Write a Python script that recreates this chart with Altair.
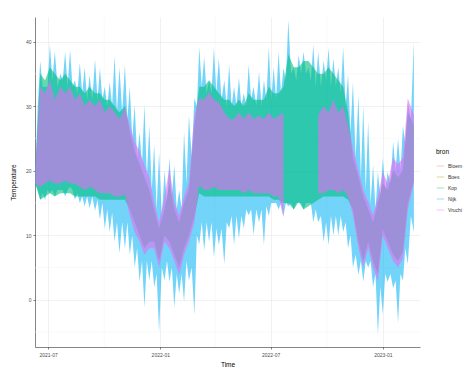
import altair as alt
import pandas as pd

# days since 2021-07-01 of each sample
days = [-21, -13, -5, 3, 11, 20, 28, 36, 44, 52, 60, 68, 77, 85, 93, 101, 109, 117, 126, 134,
        142, 150, 158, 166, 174, 182, 191, 199, 207, 215, 223, 231, 240, 248, 256, 264, 272, 280, 289, 297,
        305, 313, 321, 329, 337, 346, 354, 362, 370, 378, 386, 394, 403, 411, 419, 427, 435, 443, 452, 460,
        468, 476, 484, 492, 500, 509, 517, 525, 533, 541, 549, 557, 566, 574, 582, 590, 600]

nijk_hi = [20, 37, 33, 39.5, 38.5, 35, 38.4, 38.7, 34, 36.7, 36, 34.8, 37.2, 35.9, 33, 33.7, 37.8, 36, 36.4, 33,
           30.2, 26, 30.2, 27, 24, 22.8, 20, 22, 20.9, 17, 26, 28.6, 31.2, 39.1, 37.6, 34, 39, 37.4, 34, 36.4,
           33, 34.4, 32, 36.4, 33, 35.3, 34, 39.1, 36, 38.4, 35.9, 43.3, 36, 37.9, 38.4, 36, 39.5, 38.4, 37, 39,
           37.4, 36, 39.1, 34.8, 33.7, 31.7, 30, 27.6, 20.9, 19.8, 22, 19.8, 24.5, 25, 27, 30.6, 40]
nijk_lo = [18, 15.5, 15.5, 16.5, 16, 17, 16, 17.5, 15.5, 15, 14.5, 14.2, 13.8, 12.5, 11, 10.5, 9, 7.2, 8, 7,
           5, 2.8, -1.2, 3, 2, -5, 3, 2.8, -1.2, 1, -0.3, 3, -2.3, 8.6, 7.6, 9, 6.6, 8.5, 5.5, 11.1,
           8.5, 9.5, 11.1, 13.1, 10.1, 12, 8.5, 13, 15, 14, 13, 14.5, 14, 15, 14, 15, 12, 12, 9, 8.5,
           10, 10, 10.5, 8, 5, 3.9, 2.8, 5, 2, -5.4, -2.3, 2.8, 1.8, -3.6, 3, 5.5, 10.5]
# levels of the Nijk band between two samples (gaps between the spikes)
nijk_hi_mid = [30, 33, 33, 34, 33, 34, 33, 33, 32, 32, 31, 31, 31, 31, 30, 30, 29, 29, 28, 25,
               22, 21, 19, 17, 14, 13, 15, 16, 14, 14, 18, 22, 30, 33, 32, 32, 32, 31, 30, 30,
               30, 30, 30, 31, 30, 30, 31, 31, 31, 32, 34, 35, 34, 35, 35, 34, 33, 33, 34, 33,
               33, 32, 30, 26, 22, 19, 17, 15, 14, 16, 17, 18, 20, 20, 24, 28]
nijk_lo_mid = [17, 16.5, 17, 17, 17, 17, 17, 17, 16.5, 16, 16, 16, 15.5, 15, 14, 13.5, 12, 12, 12, 10,
               8, 6, 6, 6, 4, 5, 6, 5, 4, 4, 6, 5, 10, 12, 12, 12, 11, 11, 12, 13,
               13, 13, 14, 14, 14, 14, 14.5, 15, 15, 15, 15, 15, 15, 15, 15, 15, 14, 13, 12, 13,
               13, 13, 12, 10, 7, 6, 6, 6, 4, 2, 4, 4, 3, 4, 8, 13]

kop_hi = [20, 35, 34, 36, 35, 34, 35, 34, 33, 33, 32, 33, 32, 32, 31, 31, 30, 29, 30, 26,
          23, 21, 19, 17, 14, 11, 14, 18, 14, 12, 15, 17, 27, 33, 33, 34, 33, 32, 31, 31,
          30, 31, 30, 32, 31, 31, 31, 33, 32, 32, 33, 38, 36, 36, 37, 37, 36, 35, 35, 36,
          35, 34, 33, 29, 22, 19, 16, 14, 12, 15, 18, 17, 20, 19, 20, 29, 27]
kop_lo = [18, 15.5, 16, 16.5, 16, 16.5, 16.5, 16.5, 16, 16, 16, 16, 16, 15.5, 15.5, 15.5, 15.5, 15.5, 15.5, 14,
          12, 10, 8, 9, 9, 6, 10, 9, 7, 5, 8, 10, 13, 16.5, 16, 16, 16, 16, 16, 16,
          16, 16, 16, 16, 16, 16, 16, 16, 15.5, 15.5, 15, 15, 14, 15.2, 14, 14.5, 15, 15.5, 16, 16,
          16, 16, 16, 15.5, 14, 9, 6, 9, 6, 4, 11, 9, 7, 6, 7.5, 15, 18.5]

vruchi_hi = [20, 33, 32, 34, 31, 33, 32, 33, 31, 32, 30, 31, 30, 31, 29, 30, 29, 28, 29.7, 27,
             24.5, 23, 20.9, 19, 15.2, 12, 16, 20.4, 15.2, 13.1, 16, 18.2, 28.6, 31.2, 31, 32.2, 31, 30.6, 29, 28,
             28, 29, 28, 29, 28, 28.5, 28, 29, 28, 28.5, 29, None, None, None, None, None, None, 28.6, 30, 29,
             31, 29, 30, 27, 23.5, 20, 17, 15.2, 13.1, 16, 19.8, 18, 22, 21, 22, 31.2, 28.6]
vruchi_lo = [18, 17.5, 18, 18.5, 18, 18, 18.5, 18, 18, 17.5, 17, 17.5, 17, 16.5, 16.5, 16.5, 16, 16, 16.3, 13,
             10.5, 9, 7, 8, 8, 5, 9, 8, 6, 3.9, 7, 9, 12, 17.8, 17, 17, 17.5, 17, 17, 17,
             17, 17, 16.5, 17, 16.5, 16.5, 16.5, 16.5, 16, 16, 12.7, None, None, None, None, None, None, 16.5, 16.5, 17,
             17, 16.5, 17, 16, 13.1, 8, 5, 8, 5, 2.8, 10, 8, 6, 5, 6.5, 14, 18]

bron_names = ["Bloem", "Boes", "Kop", "Nijk", "Vruchi"]
bron_colors = ["#F8766D", "#A3A500", "#00BF7D", "#00B0F6", "#E76BF3"]

x_ticks = ["2021-07-01", "2022-01-01", "2022-07-01", "2023-01-01"]
x_minor = ["2021-10-01", "2022-04-01", "2022-10-01"]
y_ticks = [0, 10, 20, 30, 40]
y_minor = [-5, 5, 15, 25, 35]

base = pd.Timestamp("2021-07-01")


def day_str(d):
    return (base + pd.Timedelta(hours=round(d * 24))).strftime("%Y-%m-%dT%H:%M")


rows = []
# Nijk: samples interleaved with the mid levels
for i, d in enumerate(days):
    rows.append({"date": day_str(d), "lo": nijk_lo[i], "hi": nijk_hi[i], "bron": "Nijk", "seg": "Nijk0"})
    if i < len(days) - 1:
        dm = (d + days[i + 1]) / 2
        rows.append({"date": day_str(dm), "lo": nijk_lo_mid[i], "hi": nijk_hi_mid[i], "bron": "Nijk", "seg": "Nijk0"})
for name, his, los in [("Kop", kop_hi, kop_lo), ("Vruchi", vruchi_hi, vruchi_lo)]:
    seg = 0
    gap = False
    for d, h, l in zip(days, his, los):
        if h is None:
            if not gap:
                seg += 1
                gap = True
            continue
        gap = False
        rows.append({"date": day_str(d), "lo": l, "hi": h, "bron": name, "seg": f"{name}{seg}"})
df = pd.DataFrame(rows)

xdom = ["2021-06-09T12:00", "2023-03-03"]
ydom = [-7.3, 43.8]
xscale = alt.Scale(domain=xdom)
yscale = alt.Scale(domain=ydom, nice=False, zero=False)

axis_common = dict(labelFontSize=5, labelColor="#4D4D4D", titleFontSize=6.5, titleColor="#000000",
                   titleFontWeight="normal", tickSize=2, tickColor="#333333", domainColor="#333333",
                   domainWidth=0.6, tickWidth=0.6, gridColor="#E8E8E8", gridWidth=0.6)

minor_x = alt.Chart(pd.DataFrame({"d": x_minor})).mark_rule(color="#F3F3F3", strokeWidth=0.5).encode(
    x=alt.X("d:T", scale=xscale))
minor_y = alt.Chart(pd.DataFrame({"v": y_minor})).mark_rule(color="#F3F3F3", strokeWidth=0.5).encode(
    y=alt.Y("v:Q", scale=yscale))

col = dict(zip(bron_names, bron_colors))
opac = {"Nijk": 0.55, "Kop": 0.6, "Vruchi": 0.6}


def band(name):
    return alt.Chart(df).transform_filter(alt.datum.bron == name).mark_area(
        color=col[name], opacity=opac[name], interpolate="linear", clip=True
    ).encode(
        x=alt.X("date:T", scale=xscale, title="Time",
                axis=alt.Axis(values=x_ticks, format="%Y-%m", labelPadding=3, titlePadding=4, **axis_common)),
        y=alt.Y("lo:Q", scale=yscale, title="Temperature",
                axis=alt.Axis(values=y_ticks, labelPadding=2, titlePadding=9, **axis_common)),
        y2="hi:Q",
        detail="seg:N",
    )


legend_df = pd.DataFrame({"date": ["2020-01-01"] * 5, "v": [20] * 5, "bron": bron_names})
legend_layer = alt.Chart(legend_df).mark_line(clip=True, strokeWidth=0.8).encode(
    x=alt.X("date:T", scale=xscale),
    y=alt.Y("v:Q", scale=yscale),
    color=alt.Color("bron:N", scale=alt.Scale(domain=bron_names, range=bron_colors),
                    legend=alt.Legend(title="bron", orient="none", legendX=401, legendY=132,
                                      titleFontSize=6.5, titleFontWeight="normal", titleColor="#000000",
                                      labelFontSize=5, labelColor="#333333", symbolType="stroke",
                                      symbolSize=55, symbolStrokeWidth=0.8, symbolOpacity=0.5,
                                      rowPadding=3, titlePadding=6, labelOffset=3)),
)

chart = alt.layer(minor_x, minor_y, band("Nijk"), band("Kop"), band("Vruchi"), legend_layer).properties(
    width=385, height=330,
    autosize=alt.AutoSizeParams(type="none"),
    padding={"left": 27, "top": 9, "right": 46, "bottom": 21},
).configure(font="Liberation Sans").configure_view(strokeWidth=0, stroke="transparent")

chart.save("out.html", embed_options={"renderer": "svg", "actions": False})
